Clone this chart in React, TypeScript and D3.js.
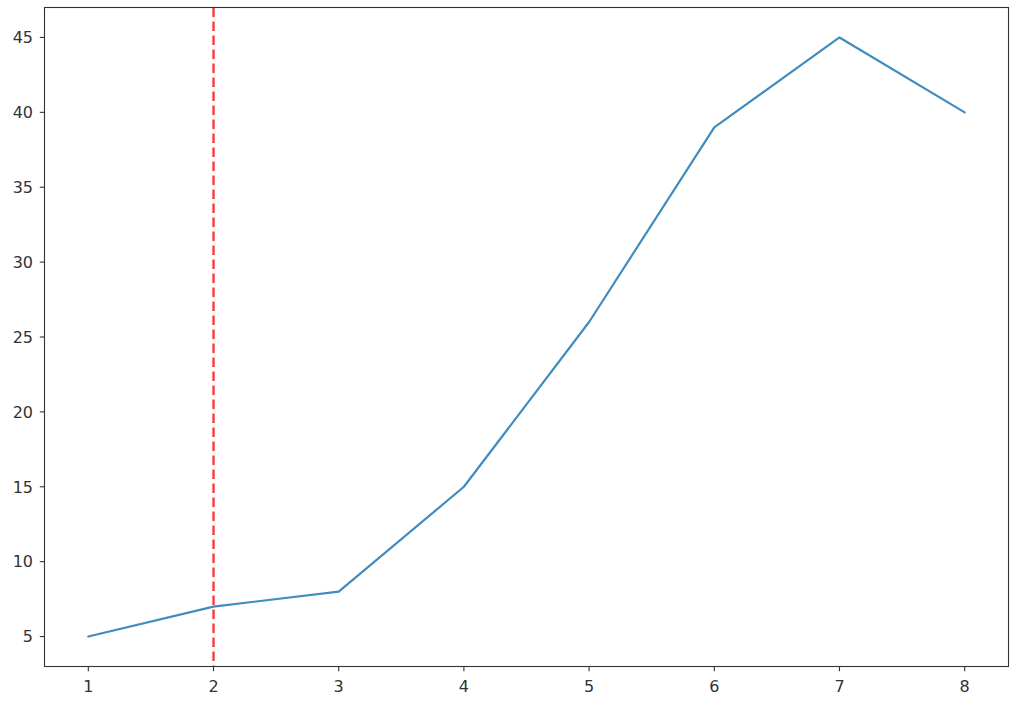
import React from "react";
import * as d3 from "d3";

const xValues = [1, 2, 3, 4, 5, 6, 7, 8];
const yValues = [5, 7, 8, 15, 26, 39, 45, 40];
const xTicks = [1, 2, 3, 4, 5, 6, 7, 8];
const yTicks = [5, 10, 15, 20, 25, 30, 35, 40, 45];
const markerX = 2;

const W = 1024;
const H = 711;
const M = { left: 44.5, right: 1008.5, top: 7.5, bottom: 666.5 };

export default function App() {
  const x = d3.scaleLinear().domain([0.65, 8.35]).range([M.left, M.right]);
  const y = d3.scaleLinear().domain([3, 47]).range([M.bottom, M.top]);
  const line = d3
    .line<number>()
    .x((_, i) => x(xValues[i]))
    .y((d) => y(d));
  const font = "DejaVu Sans, sans-serif";
  const fs = 16;
  return (
    <svg
      width={W}
      height={H}
      style={{ position: "fixed", left: 0, top: 0, background: "#fff" }}
    >
      <rect x={0} y={0} width={W} height={H} fill="#fff" />
      <path
        d={line(yValues) || ""}
        fill="none"
        stroke="#1f77b4"
        strokeOpacity={0.85}
        strokeWidth={2.2}
        strokeLinejoin="round"
        strokeLinecap="round"
      />
      <line
        x1={x(markerX)}
        x2={x(markerX)}
        y1={M.top}
        y2={M.bottom}
        stroke="#ff0000"
        strokeOpacity={0.8}
        strokeWidth={2.3}
        strokeDasharray="9.5 4.5"
      />
      <rect
        x={M.left}
        y={M.top}
        width={M.right - M.left}
        height={M.bottom - M.top}
        fill="none"
        stroke="#333"
        strokeWidth={1.1}
      />
      {xTicks.map((t) => (
        <g key={"x" + t}>
          <line x1={x(t)} x2={x(t)} y1={M.bottom} y2={M.bottom + 4.7} stroke="#333" strokeWidth={1.1} />
          <text
            x={x(t)}
            y={692}
            textAnchor="middle"
            fontFamily={font}
            fontSize={fs}
            fill="#333"
          >
            {t}
          </text>
        </g>
      ))}
      {yTicks.map((t) => (
        <g key={"y" + t}>
          <line x1={M.left - 4.7} x2={M.left} y1={y(t)} y2={y(t)} stroke="#333" strokeWidth={1.1} />
          <text
            x={33}
            y={y(t)}
            dy="0.36em"
            textAnchor="end"
            fontFamily={font}
            fontSize={fs}
            fill="#333"
          >
            {t}
          </text>
        </g>
      ))}
    </svg>
  );
}
